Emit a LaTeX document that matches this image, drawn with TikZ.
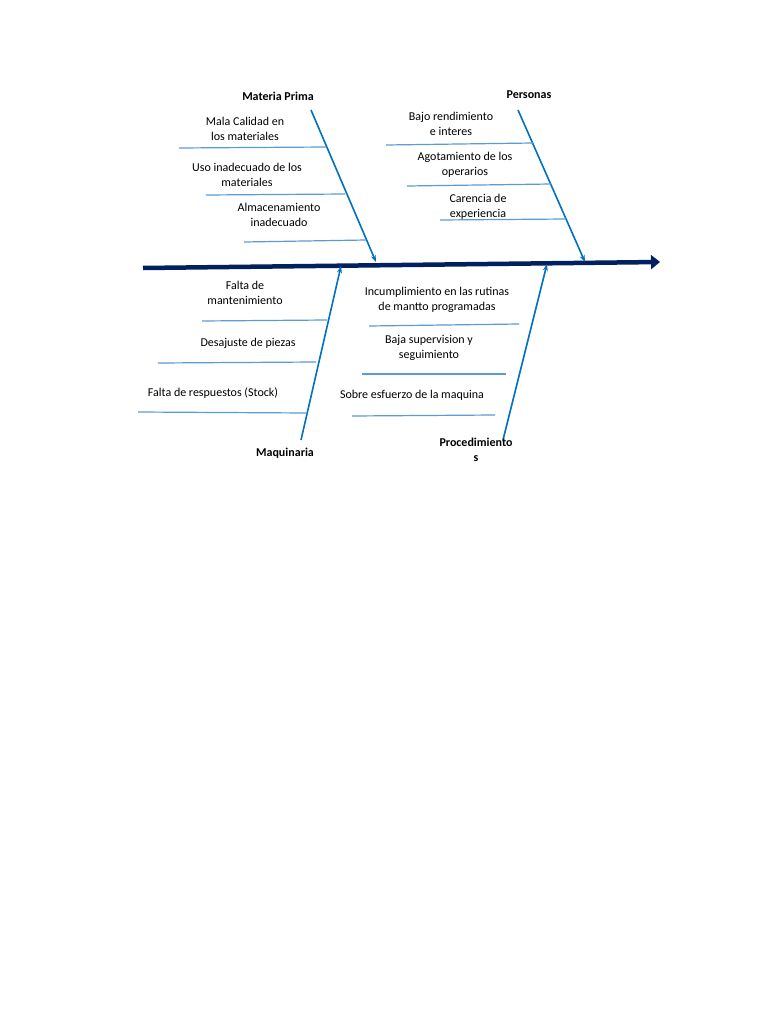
\documentclass[tikz,border=0pt]{standalone}
\usepackage{fontspec}
\setmainfont{Carlito}
\usetikzlibrary{arrows.meta}
\definecolor{spine}{HTML}{002060}
\definecolor{bone}{HTML}{0070C0}
\definecolor{rib}{HTML}{5B9BD5}
\begin{document}
\begin{tikzpicture}[x=1pt,y=-1pt,
  lbl/.style={font=\fontsize{12}{15}\selectfont,align=center,inner sep=0pt},
  ttl/.style={font=\fontsize{12}{15}\selectfont\bfseries,align=center,inner sep=0pt},
  bonel/.style={bone,line width=1.6pt,-{Stealth[length=7pt,width=5pt]}},
  ribl/.style={rib,line width=1.2pt}]
\useasboundingbox[fill=white] (0,0) rectangle (768,1024);
% spine
\coordinate (s0) at (143,268); \coordinate (s1) at (660,262);
\draw[spine,line width=4.5pt,-{Triangle[length=9pt,width=14pt]}] (s0) -- (s1);
% bones
\coordinate (mp0) at (311,110); \coordinate (mp1) at (376,262);
\coordinate (pe0) at (518,110); \coordinate (pe1) at (585,262);
\coordinate (ma0) at (301,440); \coordinate (ma1) at (341,266);
\coordinate (pr0) at (503,440); \coordinate (pr1) at (547,264);
\draw[bonel] (mp0) -- (mp1);
\draw[bonel] (pe0) -- (pe1);
\draw[bonel] (ma0) -- (ma1);
\draw[bonel] (pr0) -- (pr1);
% ribs
\coordinate (r1a) at (179,148); \coordinate (r1b) at (326,147);
\coordinate (r2a) at (206,195); \coordinate (r2b) at (345,194);
\coordinate (r3a) at (244,242); \coordinate (r3b) at (366,240);
\coordinate (r4a) at (386,145); \coordinate (r4b) at (533,143);
\coordinate (r5a) at (407,186); \coordinate (r5b) at (551,184);
\coordinate (r6a) at (440,220); \coordinate (r6b) at (566,219);
\coordinate (r7a) at (202,321); \coordinate (r7b) at (327,320);
\coordinate (r8a) at (158,363); \coordinate (r8b) at (316,362);
\coordinate (r9a) at (138,412); \coordinate (r9b) at (307,413);
\coordinate (r10a) at (369,326); \coordinate (r10b) at (519,324);
\coordinate (r11a) at (362,374); \coordinate (r11b) at (506,374);
\coordinate (r12a) at (352,416); \coordinate (r12b) at (495,415);
\foreach \i in {1,...,12} \draw[ribl] (r\i a) -- (r\i b);
% titles
\node[ttl] (tmp) at (278,96) {Materia Prima};
\node[ttl] (tpe) at (529,95) {Personas};
\node[ttl] (tma) at (285,453) {Maquinaria};
\node[ttl] (tpr) at (476,450) {Procedimiento\\s};
% labels
\node[lbl] (l1) at (245,129) {Mala Calidad en\\los materiales};
\node[lbl] (l2) at (247,175) {Uso inadecuado de los\\materiales};
\node[lbl] (l3) at (279,215) {Almacenamiento\\inadecuado};
\node[lbl] (l4) at (451,124) {Bajo rendimiento\\e interes};
\node[lbl] (l5) at (465,165) {Agotamiento de los\\operarios};
\node[lbl] (l6) at (478,207) {Carencia de\\experiencia};
\node[lbl] (l7) at (245,293) {Falta de\\mantenimiento};
\node[lbl] (l8) at (248,343) {Desajuste de piezas};
\node[lbl] (l9) at (213,393) {Falta de respuestos (Stock)};
\node[lbl] (l10) at (437,300) {Incumplimiento en las rutinas\\de mantto programadas};
\node[lbl] (l11) at (429,348) {Baja supervision y\\seguimiento};
\node[lbl] (l12) at (412,395) {Sobre esfuerzo de la maquina};
\end{tikzpicture}
\end{document}
